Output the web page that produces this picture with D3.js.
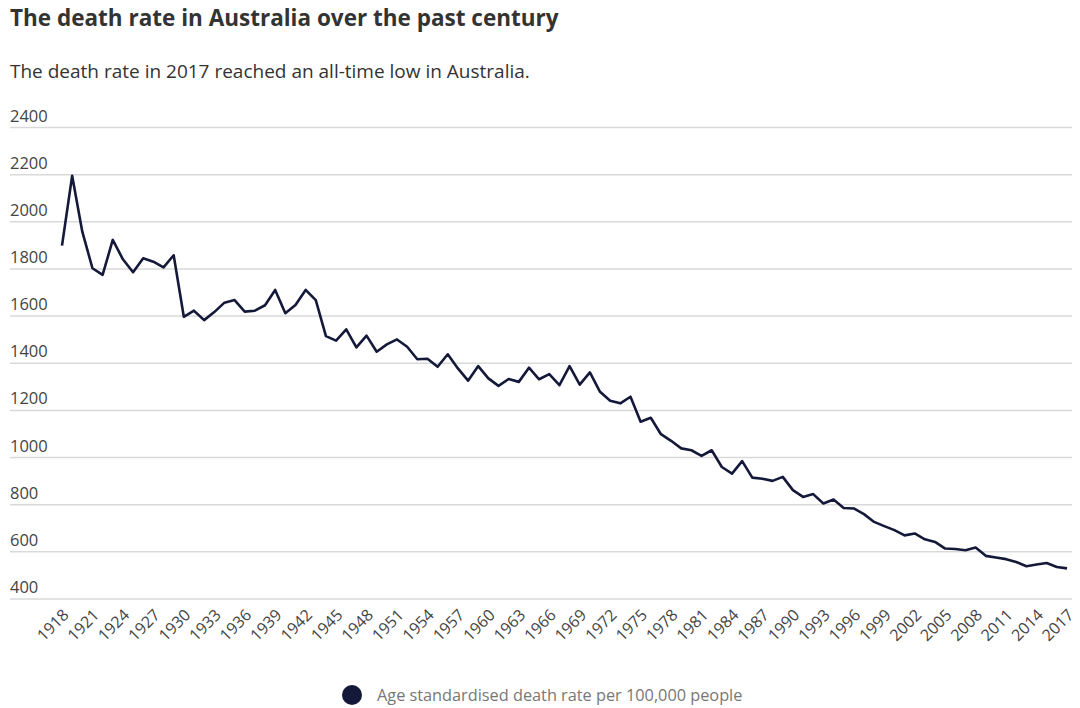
<!DOCTYPE html>
<html lang="en">
<head>
    <meta charset="UTF-8">
    <title>Death rate in Australia</title>
    <script src="https://cdn.jsdelivr.net/npm/d3@7/dist/d3.min.js"></script>
    <style>
        body { margin: 0; background: #fff; }
        text { font-family: "Open Sans", "Noto Sans", sans-serif; }
    </style>
</head>
<body>
<svg id="main" width="1080" height="708"></svg>
<script>
    const years = d3.range(1918, 2018);

    const deathRate = [
        1899, 2195, 1958, 1803, 1775, 1923, 1841, 1786, 1845, 1831,
        1807, 1858, 1597, 1623, 1583, 1617, 1657, 1668, 1619, 1623,
        1646, 1711, 1612, 1647, 1711, 1668, 1515, 1496, 1544, 1467,
        1517, 1449, 1480, 1501, 1470, 1417, 1419, 1385, 1438, 1378,
        1326, 1388, 1336, 1304, 1333, 1321, 1381, 1332, 1354, 1307,
        1388, 1309, 1361, 1279, 1241, 1230, 1258, 1152, 1169, 1099,
        1071, 1039, 1031, 1007, 1031, 960, 932, 985, 915, 910,
        901, 918, 862, 833, 845, 805, 822, 786, 784, 760,
        727, 709, 692, 670, 678, 653, 642, 614, 612, 607,
        618, 583, 576, 569, 557, 539, 546, 553, 536, 530
    ];

    const yTicks = [400, 600, 800, 1000, 1200, 1400, 1600, 1800, 2000, 2200, 2400];
    const xTicks = d3.range(1918, 2018, 3);

    const title = 'The death rate in Australia over the past century';
    const subtitle = 'The death rate in 2017 reached an all-time low in Australia.';
    const legendLabel = 'Age standardised death rate per 100,000 people';
    const lineColor = '#14193a';

    let svg = d3.select('svg#main');

    let x = d3.scaleLinear()
        .domain([1918, 2017])
        .range([62, 1067]);

    let y = d3.scaleLinear()
        .domain([400, 2400])
        .range([599, 127.5]);

    // titles
    svg.append('text')
        .attr('x', 10).attr('y', 26)
        .attr('font-size', 22.5).attr('font-weight', 'bold')
        .attr('fill', '#333')
        .text(title);

    svg.append('text')
        .attr('x', 10).attr('y', 78)
        .attr('font-size', 19)
        .attr('fill', '#333')
        .text(subtitle);

    // gridlines + y labels
    let grid = svg.append('g');
    grid.selectAll('line').data(yTicks).enter().append('line')
        .attr('x1', 10).attr('x2', 1072)
        .attr('y1', d => y(d)).attr('y2', d => y(d))
        .attr('stroke', '#d9d9d9').attr('stroke-width', 1.5);

    grid.selectAll('text').data(yTicks).enter().append('text')
        .attr('x', 10).attr('y', d => y(d) - 6)
        .attr('font-size', 16.5).attr('fill', '#444')
        .text(d => d);

    // x axis (rotated labels)
    let xAxis = d3.axisBottom(x)
        .tickValues(xTicks)
        .tickFormat(d => d)
        .tickSize(0);

    let gx = svg.append('g')
        .attr('transform', 'translate(0,609)')
        .call(xAxis);
    gx.select('.domain').remove();
    gx.selectAll('text')
        .attr('font-size', 16)
        .attr('fill', '#444')
        .attr('text-anchor', 'end')
        .attr('dy', null)
        .attr('transform', 'translate(5,5) rotate(-45)');

    // line
    let line = d3.line()
        .x((d, i) => x(years[i]))
        .y(d => y(d));

    svg.append('path')
        .datum(deathRate)
        .attr('fill', 'none')
        .attr('stroke', lineColor)
        .attr('stroke-width', 2.6)
        .attr('stroke-linejoin', 'round')
        .attr('d', line);

    // legend
    let legend = svg.append('g').attr('transform', 'translate(352,695)');
    legend.append('circle').attr('r', 10).attr('fill', lineColor);
    legend.append('text')
        .attr('x', 25).attr('y', 6)
        .attr('font-size', 16.3).attr('fill', '#777')
        .text(legendLabel);
</script>
</body>
</html>
